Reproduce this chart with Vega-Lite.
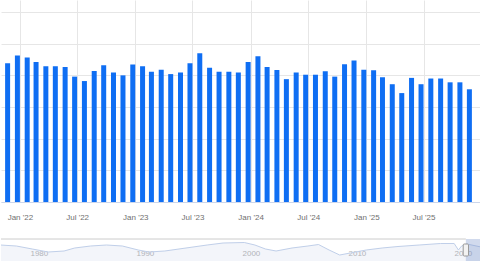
{
  "$schema": "https://vega.github.io/schema/vega-lite/v6.json",
  "padding": 0,
  "bounds": "flush",
  "spacing": 37,
  "background": "white",
  "config": {"view": {"stroke": null}, "font": "Liberation Sans"},
  "datasets": {
    "bars": [
      {"date": "2021-12-01", "value": 43.8},
      {"date": "2022-01-01", "value": 46.3},
      {"date": "2022-02-01", "value": 45.6},
      {"date": "2022-03-01", "value": 44.2},
      {"date": "2022-04-01", "value": 42.9},
      {"date": "2022-05-01", "value": 42.9},
      {"date": "2022-06-01", "value": 42.6},
      {"date": "2022-07-01", "value": 39.6},
      {"date": "2022-08-01", "value": 38.2},
      {"date": "2022-09-01", "value": 41.4},
      {"date": "2022-10-01", "value": 43.2},
      {"date": "2022-11-01", "value": 40.9},
      {"date": "2022-12-01", "value": 40.0},
      {"date": "2023-01-01", "value": 43.4},
      {"date": "2023-02-01", "value": 42.9},
      {"date": "2023-03-01", "value": 41.1},
      {"date": "2023-04-01", "value": 41.8},
      {"date": "2023-05-01", "value": 40.4},
      {"date": "2023-06-01", "value": 40.9},
      {"date": "2023-07-01", "value": 43.8},
      {"date": "2023-08-01", "value": 47.0},
      {"date": "2023-09-01", "value": 42.4},
      {"date": "2023-10-01", "value": 41.1},
      {"date": "2023-11-01", "value": 41.1},
      {"date": "2023-12-01", "value": 40.9},
      {"date": "2024-01-01", "value": 44.2},
      {"date": "2024-02-01", "value": 46.0},
      {"date": "2024-03-01", "value": 42.6},
      {"date": "2024-04-01", "value": 41.7},
      {"date": "2024-05-01", "value": 38.8},
      {"date": "2024-06-01", "value": 40.9},
      {"date": "2024-07-01", "value": 40.2},
      {"date": "2024-08-01", "value": 40.2},
      {"date": "2024-09-01", "value": 41.3},
      {"date": "2024-10-01", "value": 39.6},
      {"date": "2024-11-01", "value": 43.5},
      {"date": "2024-12-01", "value": 44.7},
      {"date": "2025-01-01", "value": 41.8},
      {"date": "2025-02-01", "value": 41.6},
      {"date": "2025-03-01", "value": 39.4},
      {"date": "2025-04-01", "value": 37.2},
      {"date": "2025-05-01", "value": 34.4},
      {"date": "2025-06-01", "value": 39.2},
      {"date": "2025-07-01", "value": 37.2},
      {"date": "2025-08-01", "value": 39.0},
      {"date": "2025-09-01", "value": 39.0},
      {"date": "2025-10-01", "value": 37.8},
      {"date": "2025-11-01", "value": 37.8},
      {"date": "2025-12-01", "value": 35.6}
    ],
    "nav": [
      {"year": 1977.5, "v": 16},
      {"year": 1979, "v": 15},
      {"year": 1980.5, "v": 12},
      {"year": 1982, "v": 9},
      {"year": 1983.5, "v": 10},
      {"year": 1984.5, "v": 13},
      {"year": 1986, "v": 15},
      {"year": 1987.5, "v": 16},
      {"year": 1989, "v": 15},
      {"year": 1990.5, "v": 11},
      {"year": 1991.5, "v": 9},
      {"year": 1993, "v": 10},
      {"year": 1995, "v": 13},
      {"year": 1997, "v": 16},
      {"year": 1998.5, "v": 18},
      {"year": 2000.5, "v": 18.5},
      {"year": 2001.5, "v": 16},
      {"year": 2002.5, "v": 12},
      {"year": 2003.5, "v": 10},
      {"year": 2005, "v": 13},
      {"year": 2006.5, "v": 15},
      {"year": 2007.5, "v": 16.5},
      {"year": 2008.5, "v": 11},
      {"year": 2009.5, "v": 6},
      {"year": 2010.5, "v": 8},
      {"year": 2012, "v": 11},
      {"year": 2013.5, "v": 13},
      {"year": 2015, "v": 14.5},
      {"year": 2017, "v": 16},
      {"year": 2019, "v": 17.5},
      {"year": 2020.3, "v": 17.5},
      {"year": 2020.7, "v": 11},
      {"year": 2021.0, "v": 15},
      {"year": 2021.5, "v": 17},
      {"year": 2022.83, "v": 14}
    ],
    "sel": [{"x1": 2021.4, "x2": 2022.83, "y1": 0, "y2": 22}],
    "outline": [{"x1": 1977.55, "x2": 2021.4}],
    "handle": [{"x1": 2021.15, "x2": 2021.65, "y1": 5, "y2": 17}]
  },
  "vconcat": [
    {
      "width": 480,
      "height": 202,
      "data": {"name": "bars"},
      "mark": {"type": "bar", "width": 5, "xOffset": -2.5, "color": "#0f6ef3", "clip": true},
      "encoding": {
        "x": {
          "field": "date",
          "type": "temporal",
          "scale": {
            "type": "utc",
            "domain": [
              {"year": 2021, "month": 11, "date": 18, "utc": true},
              {"year": 2025, "month": 12, "date": 14, "utc": true}
            ]
          },
          "axis": {
            "title": null,
            "values": [
              {"year": 2022, "month": 1, "date": 1, "utc": true},
              {"year": 2022, "month": 7, "date": 1, "utc": true},
              {"year": 2023, "month": 1, "date": 1, "utc": true},
              {"year": 2023, "month": 7, "date": 1, "utc": true},
              {"year": 2024, "month": 1, "date": 1, "utc": true},
              {"year": 2024, "month": 7, "date": 1, "utc": true},
              {"year": 2025, "month": 1, "date": 1, "utc": true},
              {"year": 2025, "month": 7, "date": 1, "utc": true}
            ],
            "format": "%b '%y",
            "labelFontSize": 8,
            "labelColor": "#707070",
            "labelFont": "Liberation Sans",
            "labelFlush": false,
            "ticks": false,
            "tickSize": 0,
            "labelPadding": 11,
            "grid": true,
            "gridColor": "#e6e6e6",
            "domainColor": "#ccd6eb",
            "labelOverlap": false
          }
        },
        "y": {
          "field": "value",
          "type": "quantitative",
          "scale": {"domain": [0, 63.8], "nice": false},
          "axis": {
            "title": null,
            "values": [0, 10, 20, 30, 40, 50, 60],
            "labels": false,
            "ticks": false,
            "domain": false,
            "grid": true,
            "gridColor": "#e6e6e6"
          }
        }
      }
    },
    {
      "width": 480,
      "height": 22,
      "layer": [
        {
          "data": {"name": "nav"},
          "mark": {"type": "area", "color": "#335cad", "opacity": 0.06, "clip": true},
          "encoding": {
            "x": {
              "field": "year",
              "type": "quantitative",
              "scale": {"domain": [1977.55, 2022.83], "nice": false, "zero": false},
              "axis": {
                "title": null,
                "values": [1980, 1990, 2000, 2010, 2020],
                "format": "d",
                "labelAlign": "left",
                "labelOffset": 3,
                "labelBaseline": "middle",
                "labelPadding": -8,
                "labelFlush": false,
                "tickSize": 0,
                "ticks": false,
                "domain": false,
                "grid": false,
                "labelFontSize": 8,
                "labelColor": "#bbbbbb",
                "labelFont": "Liberation Sans"
              }
            },
            "y": {
              "field": "v",
              "type": "quantitative",
              "scale": {"domain": [0, 22], "nice": false},
              "axis": null
            }
          }
        },
        {
          "data": {"name": "nav"},
          "mark": {"type": "line", "color": "#c0cfe9", "strokeWidth": 1, "clip": true},
          "encoding": {
            "x": {"field": "year", "type": "quantitative"},
            "y": {"field": "v", "type": "quantitative"}
          }
        },
        {
          "data": {"name": "sel"},
          "mark": {"type": "rect", "color": "#6685c2", "opacity": 0.3, "clip": true},
          "encoding": {
            "x": {"field": "x1", "type": "quantitative"},
            "x2": {"field": "x2"},
            "y": {"field": "y1", "type": "quantitative"},
            "y2": {"field": "y2"}
          }
        },
        {
          "data": {"name": "outline"},
          "mark": {"type": "rule", "color": "#cccccc", "strokeWidth": 1},
          "encoding": {
            "x": {"field": "x1", "type": "quantitative"},
            "x2": {"field": "x2"},
            "y": {"datum": 22, "type": "quantitative"}
          }
        },
        {
          "data": {"name": "handle"},
          "mark": {"type": "rect", "fill": "#f2f2f2", "stroke": "#999999", "strokeWidth": 1, "cornerRadius": 1},
          "encoding": {
            "x": {"field": "x1", "type": "quantitative"},
            "x2": {"field": "x2"},
            "y": {"field": "y1", "type": "quantitative"},
            "y2": {"field": "y2"}
          }
        }
      ]
    }
  ]
}
